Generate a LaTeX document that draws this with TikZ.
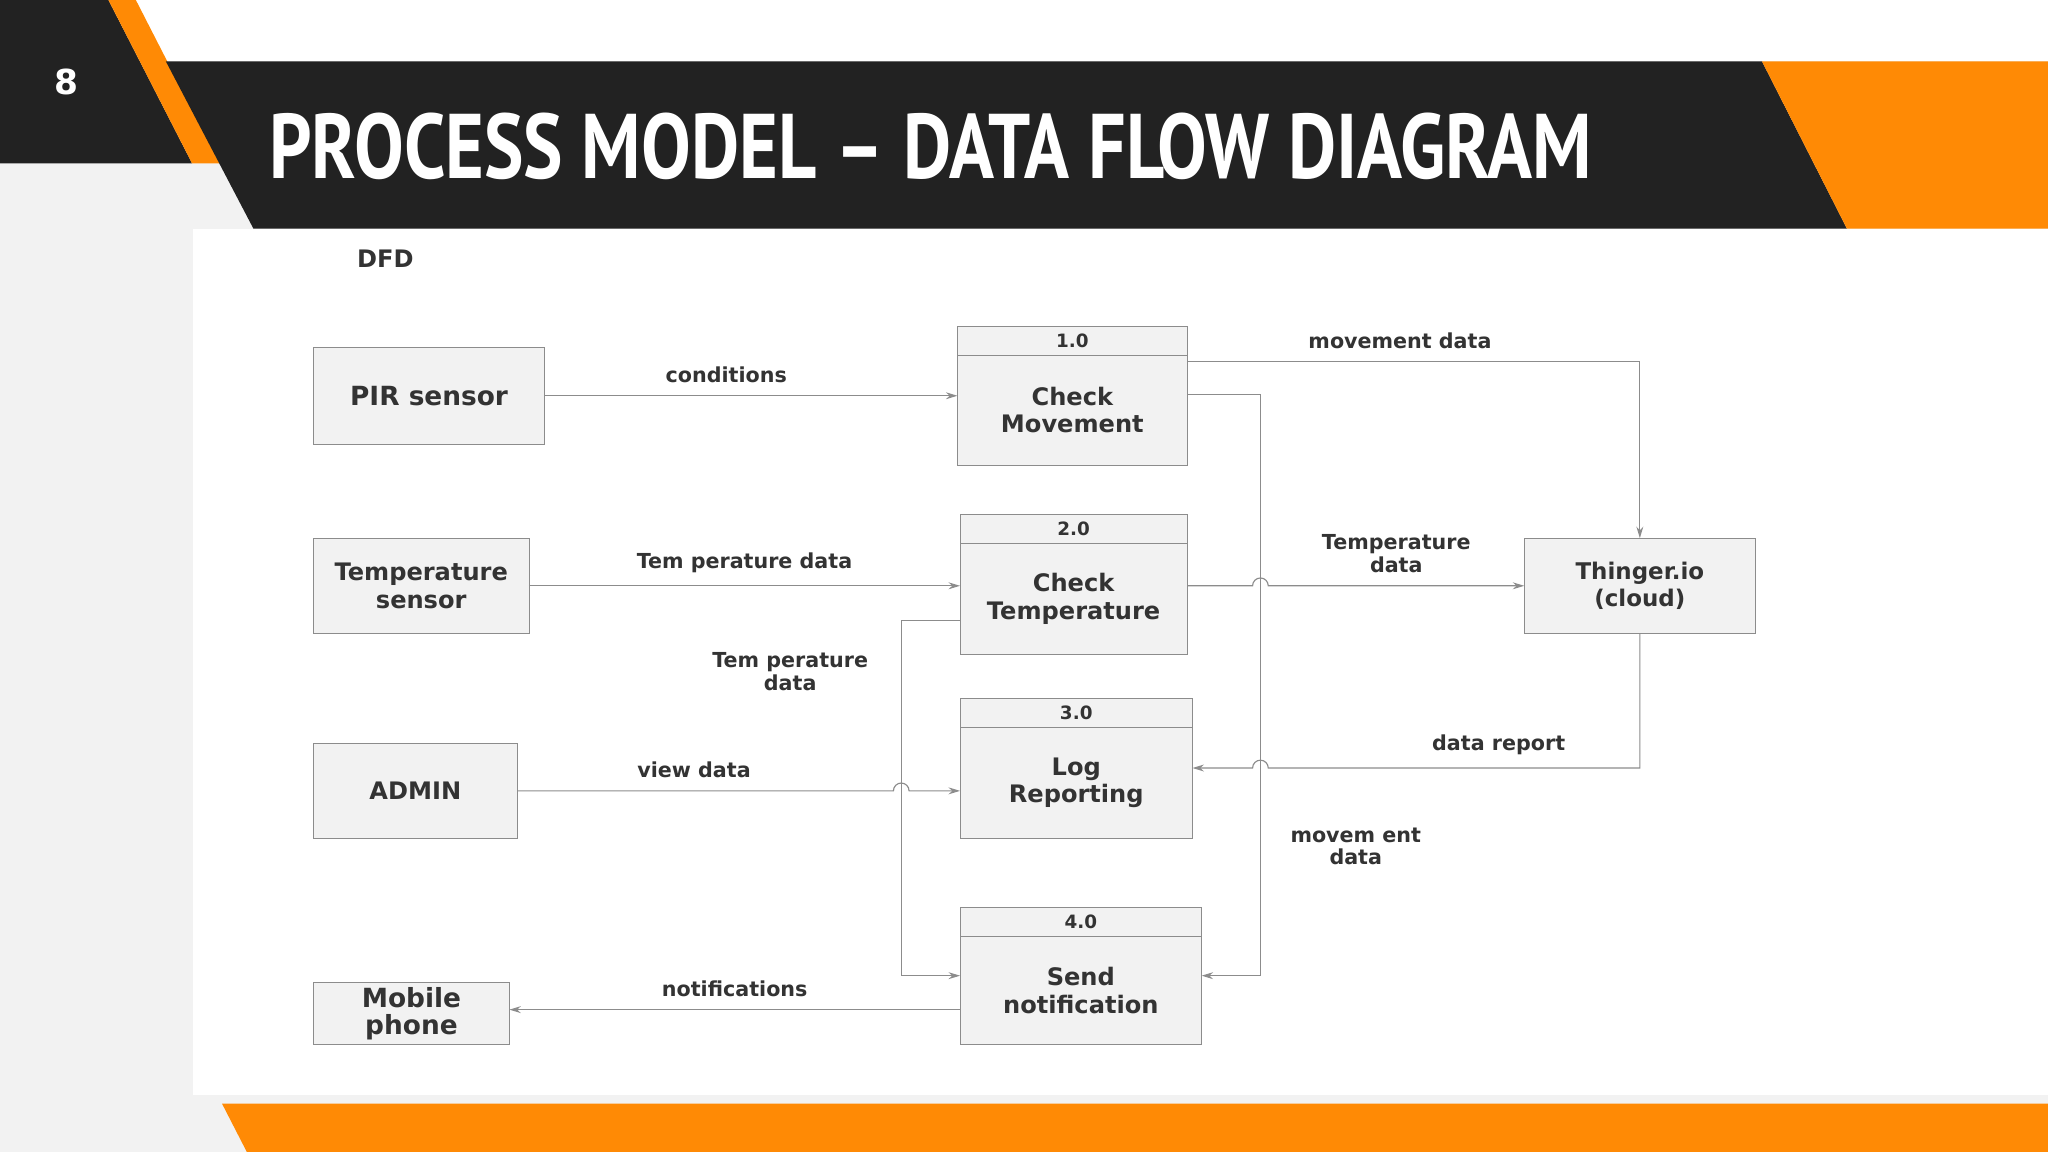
\documentclass[tikz,border=0pt]{standalone}
\usepackage{fontspec}
\setmainfont{DejaVu Sans}
\newfontfamily\titlefont{PT Sans}
\usetikzlibrary{positioning,arrows.meta}
\definecolor{barDark}{HTML}{222222}
\definecolor{barOrange}{HTML}{FF8A05}
\definecolor{pageGray}{HTML}{F2F2F2}
\definecolor{lineGray}{HTML}{8C8C8C}
\definecolor{inkGray}{HTML}{333333}
\begin{document}
\begin{tikzpicture}[
        x=0.02cm, y=-0.02cm,
        box/.style={draw=lineGray, fill=pageGray, inner sep=0pt, outer sep=0pt, align=center,
            text=inkGray, font=\bfseries\fontsize{10.5}{12}\selectfont},
        head/.style={box, minimum height=0.44cm, font=\fontsize{8}{9}\selectfont\bfseries},
        flow/.style={draw=lineGray, line width=0.5pt, -{Stealth[length=5pt,width=3pt]}},
        lbl/.style={text=inkGray, align=center, font=\bfseries\fontsize{9}{10}\selectfont}
    ]
        % Slide background and banner
        \useasboundingbox (0,0) rectangle (1568,882);
        \fill[pageGray] (0,0) rectangle (1568,882);
        \fill[white] (0,0) rectangle (1568,47);
        \fill[barDark] (0,0) -- (83,0) -- (147,125) -- (0,125) -- cycle;
        \fill[barOrange] (83,0) -- (104,0) -- (168,125) -- (147,125) -- cycle;
        \fill[barDark] (127,47) -- (1349,47) -- (1414,175) -- (194,175) -- cycle;
        \fill[barOrange] (1349,47) -- (1568,47) -- (1568,175) -- (1414,175) -- cycle;
        \fill[white] (148,175) rectangle (1568,838);
        \fill[barOrange] (170,845) -- (1568,845) -- (1568,882) -- (189,882) -- cycle;
        \node[text=white, font=\bfseries\fontsize{15}{16}\selectfont] (pageno) at (51,63) {8};
        \node[text=white, anchor=west, font=\titlefont\bfseries\fontsize{40}{44}\selectfont] (title) at (200,112)
            {\scalebox{0.81}[1]{PROCESS MODEL – DATA FLOW DIAGRAM}};
        \node[lbl, font=\bfseries\fontsize{10.5}{12}\selectfont] (dfd) at (295,198) {DFD};

        % External entities
        \node[box, minimum width=3.54cm, minimum height=1.48cm, font=\bfseries\fontsize{11.5}{13}\selectfont] (pir) at (328.5,303) {PIR sensor};
        \node[box, minimum width=3.3cm, minimum height=1.46cm] (temp) at (322.5,448.5) {Temperature\\sensor};
        \node[box, minimum width=3.12cm, minimum height=1.46cm] (admin) at (318,605.5) {ADMIN};
        \node[box, minimum width=3.0cm, minimum height=0.96cm, font=\bfseries\fontsize{11.5}{12}\selectfont] (phone) at (315,776) {Mobile\\phone};
        \node[box, minimum width=3.54cm, minimum height=1.46cm, font=\bfseries\fontsize{10}{12}\selectfont] (cloud) at (1255.5,448.5) {Thinger.io\\(cloud)};

        % Processes
        \node[box, minimum width=3.52cm, minimum height=1.68cm] (p1) at (821,314) {Check\\Movement};
        \node[head, minimum width=3.52cm, above=0pt of p1] (p1n) {1.0};
        \node[box, minimum width=3.48cm, minimum height=1.7cm] (p2) at (822,458.5) {Check\\Temperature};
        \node[head, minimum width=3.48cm, above=0pt of p2] (p2n) {2.0};
        \node[box, minimum width=3.56cm, minimum height=1.7cm] (p3) at (824,599.5) {Log\\Reporting};
        \node[head, minimum width=3.56cm, above=0pt of p3] (p3n) {3.0};
        \node[box, minimum width=3.7cm, minimum height=1.66cm] (p4) at (827.5,758.5) {Send\\notification};
        \node[head, minimum width=3.7cm, above=0pt of p4] (p4n) {4.0};

        % Free ends of the bus lines
        \coordinate (m1) at (909,277);
        \coordinate (m2) at (909,302);
        \coordinate (t1) at (735,475);
        \coordinate (n4) at (0,747);
        \coordinate (busR) at (965,0);
        \coordinate (busL) at (690,0);

        % Flows
        \draw[flow] (pir) -- node[lbl, above=2pt, pos=0.44] {conditions} (pir -| p1.west);
        \draw[flow] (m1) -- node[lbl, above=2pt, pos=0.47] {movement data} (m1 -| cloud) -- (cloud.north);
        \draw[flow] (m2) -- (m2 -| busR) -- (busR |- n4) -- (p4.east |- n4);
        \draw[flow] (temp) -- node[lbl, above=2pt] {Tem perature data} (temp -| p2.west);
        \draw[flow] (p2.east |- temp) -- ([xshift=-0.12cm]busR |- temp) arc[start angle=180, end angle=0, radius=0.12cm]
            -- node[lbl, above=2pt] {Temperature\\data} (cloud.west);
        \draw[flow] (t1) -- (t1 -| busL) -- (busL |- n4) -- (p4.west |- n4);
        \draw[flow] (admin) -- node[lbl, above=2pt, pos=0.47] {view data} ([xshift=-0.12cm]busL |- admin) arc[start angle=180, end angle=0, radius=0.12cm]
            -- (admin -| p3.west);
        \draw[flow] (cloud.south) -- (cloud.south |- 0,588) -- node[lbl, above=2pt, pos=0.38] {data report} ([xshift=0.12cm]busR |- 0,588)
            arc[start angle=0, end angle=180, radius=0.12cm] -- (p3.east |- 0,588);
        \draw[flow] (p4.west |- 0,773) -- node[lbl, above=2pt] {notifications} (phone.east |- 0,773);

        % Free labels
        \node[lbl] (tlabel) at (605,514) {Tem perature\\data};
        \node[lbl] (mlabel) at (1038,648) {movem ent\\data};
    \end{tikzpicture}
\end{document}
